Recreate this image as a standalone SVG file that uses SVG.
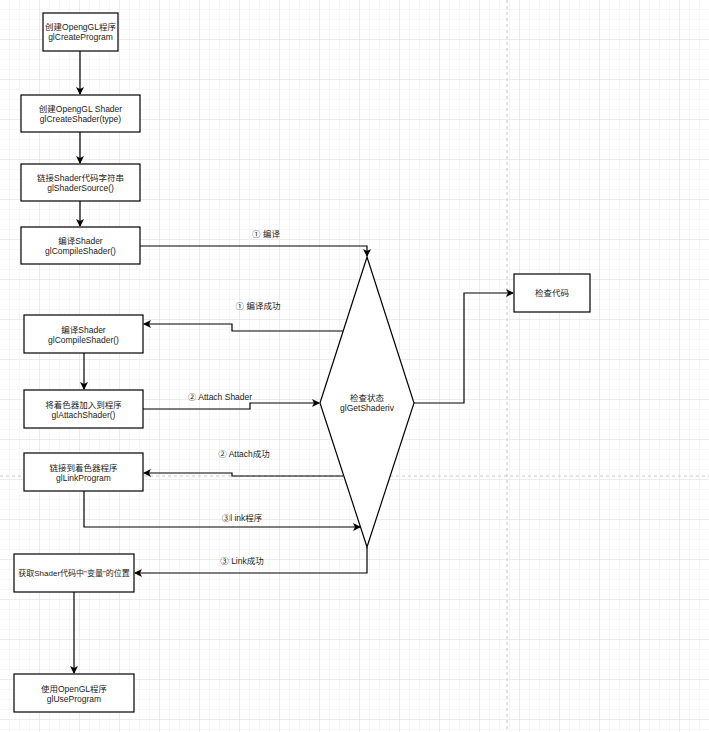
<svg xmlns="http://www.w3.org/2000/svg" width="709" height="732" viewBox="0 0 709 732">
<defs>
<pattern id="g" width="10" height="10" patternUnits="userSpaceOnUse"><path d="M10 0V10H0" fill="none" stroke="#efefef" stroke-width="1"/></pattern>
<pattern id="G" width="40" height="40" patternUnits="userSpaceOnUse"><rect width="40" height="40" fill="url(#g)"/><path d="M40 0V40H0" fill="none" stroke="#e2e2e2" stroke-width="1"/></pattern>
<marker id="a" markerWidth="8" markerHeight="8" refX="7" refY="4" orient="auto" markerUnits="userSpaceOnUse"><path d="M0 0L8 4L0 8L2 4Z" fill="#000"/></marker>
<style>
.n{fill:#fff;stroke:#000;stroke-width:1.2}
.t{font-family:"Liberation Sans","Noto Sans CJK SC",sans-serif;font-size:8.5px;fill:#222;text-anchor:middle}
.s{font-size:8px}
.c path{fill:none;stroke:#000;stroke-width:1.2;marker-end:url(#a)}
</style>
</defs>
<rect width="709" height="732" fill="#fff"/>
<rect width="709" height="732" fill="url(#G)"/>
<path d="M507 0V732M0 476H709" stroke="#c8c8c8" stroke-dasharray="3 3" fill="none"/>
<g class="c">
<path d="M80 51V94"/>
<path d="M80 132V163"/>
<path d="M80 201V226"/>
<path d="M140 246H367V256"/>
<path d="M343 331H232V324H144"/>
<path d="M84 353V389"/>
<path d="M143 409H250V403H319"/>
<path d="M343 476H232V473H144"/>
<path d="M84 491V527H360"/>
<path d="M367 547V573H135"/>
<path d="M414 403H464V293H513"/>
<path d="M74 592V673"/>
</g>
<g id="l" class="t">
<text x="266" y="237">① 编译</text>
<text x="258" y="309">① 编译成功</text>
<text x="220" y="400">② Attach Shader</text>
<text x="244" y="457">② Attach成功</text>
<text x="242" y="521">③l ink程序</text>
<text x="242" y="564">③ Link成功</text>
</g>
<g id="n1"><rect class="n" x="43" y="13" width="75" height="38"/><text class="t" x="80.5" y="30">创建OpengGL程序</text><text class="t" x="80.5" y="40">glCreateProgram</text></g>
<g id="n2"><rect class="n" x="21" y="95" width="119" height="37"/><text class="t" x="80.5" y="112">创建OpengGL  Shader</text><text class="t" x="80.5" y="122">glCreateShader(type)</text></g>
<g id="n3"><rect class="n" x="21" y="164" width="119" height="37"/><text class="t" x="80.5" y="181">链接Shader代码字符串</text><text class="t" x="80.5" y="191">glShaderSource()</text></g>
<g id="n4"><rect class="n" x="21" y="227" width="119" height="37"/><text class="t" x="80.5" y="244">编译Shader</text><text class="t" x="80.5" y="254">glCompileShader()</text></g>
<g id="d"><path class="n" d="M367 257L414 403L367 547L320 403Z"/><text class="t" x="367" y="401">检查状态</text><text class="t" x="367" y="411">glGetShaderiv</text></g>
<g id="n10"><rect class="n" x="514" y="274" width="76" height="38"/><text class="t" x="552" y="296">检查代码</text></g>
<g id="n5"><rect class="n" x="24" y="315" width="119" height="38"/><text class="t" x="83.5" y="333">编译Shader</text><text class="t" x="83.5" y="343">glCompileShader()</text></g>
<g id="n6"><rect class="n" x="24" y="390" width="119" height="38"/><text class="t" x="83.5" y="408">将着色器加入到程序</text><text class="t" x="83.5" y="418">glAttachShader()</text></g>
<g id="n7"><rect class="n" x="24" y="453" width="119" height="38"/><text class="t" x="83.5" y="471">链接到着色器程序</text><text class="t" x="83.5" y="481">glLinkProgram</text></g>
<g id="n8"><rect class="n" x="14" y="554" width="120" height="38"/><text class="t s" x="74" y="576">获取Shader代码中"变量"的位置</text></g>
<g id="n9"><rect class="n" x="14" y="674" width="120" height="38"/><text class="t" x="74" y="692">使用OpenGL程序</text><text class="t" x="74" y="702">glUseProgram</text></g>
</svg>
